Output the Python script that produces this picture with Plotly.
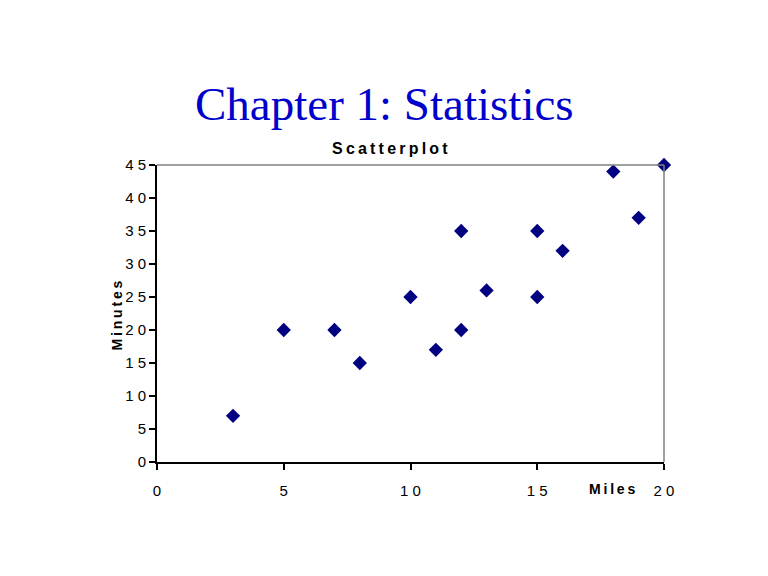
import plotly.graph_objects as go

# miles driven vs minutes taken
miles = [3, 5, 7, 8, 10, 11, 12, 12, 13, 15, 15, 16, 18, 19, 20]
minutes = [7, 20, 20, 15, 25, 17, 35, 20, 26, 35, 25, 32, 44, 37, 45]

x_ticks = [0, 5, 10, 15, 20]
x_ticktext = ["0", "5", "1 0", "1 5", "2 0"]
y_ticks = [0, 5, 10, 15, 20, 25, 30, 35, 40, 45]
y_ticktext = ["0", "5", "1 0", "1 5", "2 0", "2 5", "3 0", "3 5", "4 0", "4 5"]

SP = "\u2009"
fig = go.Figure()
fig.add_trace(go.Scatter(
    x=miles, y=minutes, mode="markers",
    marker=dict(symbol="diamond", size=11, color="#000080"),
    cliponaxis=False, showlegend=False,
))

fig.update_layout(
    width=768, height=576,
    margin=dict(l=149, r=112, t=157, b=122),
    paper_bgcolor="white", plot_bgcolor="white",
    font=dict(family="Arial, Liberation Sans, sans-serif", color="black"),
    title=dict(text="Chapter 1: Statistics", xref="container", yref="container",
               x=0.49, xanchor="center", y=1 - 96 / 576, yanchor="middle",
               font=dict(family="Liberation Serif, Times New Roman, serif",
                         size=47, color="#0000CC")),
    xaxis=dict(range=[0, 20], tickvals=x_ticks, ticktext=x_ticktext,
               showgrid=False, zeroline=False, showline=True,
               linecolor="black", linewidth=2, ticks="outside", ticklen=6,
               tickwidth=1.5, tickcolor="black", ticklabelstandoff=8,
               tickfont=dict(size=15)),
    yaxis=dict(range=[0, 45], tickvals=y_ticks, ticktext=y_ticktext,
               showgrid=False, zeroline=False, showline=True,
               linecolor="black", linewidth=2, ticks="outside", ticklen=6,
               tickwidth=1.5, tickcolor="black", tickfont=dict(size=15)),
    shapes=[
        dict(type="line", xref="paper", yref="paper", x0=0, x1=1, y0=1, y1=1,
             line=dict(color="#808080", width=1.5)),
        dict(type="line", xref="paper", yref="paper", x0=1, x1=1, y0=0, y1=1,
             line=dict(color="#808080", width=1.5)),
    ],
    annotations=[
        dict(text="<b>" + SP.join("Scatterplot") + "</b>", xref="paper", yref="paper",
             x=0.46, y=1, xanchor="center", yanchor="bottom", yshift=6,
             showarrow=False, font=dict(size=16)),
        dict(text="<b>" + SP.join("Miles") + "</b>", xref="paper", yref="paper",
             x=0.897, y=0, xanchor="center", yanchor="middle", yshift=-27,
             showarrow=False, font=dict(size=14)),
        dict(text="<b>" + SP.join("Minutes") + "</b>", xref="paper", yref="paper",
             x=-0.078, y=0.495, xanchor="center", yanchor="middle", textangle=-90,
             showarrow=False, font=dict(size=14)),
    ],
)

fig.write_html("out.html")
